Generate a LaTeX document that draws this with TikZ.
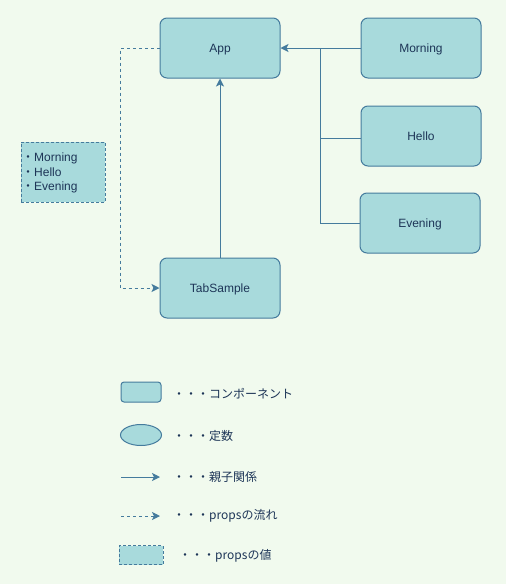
\documentclass[tikz,border=0pt]{standalone}
\usepackage{fontspec}
\setmainfont{Liberation Sans}
\newfontfamily\cjk{Noto Sans CJK JP}
\usetikzlibrary{arrows.meta,shapes.geometric}
\definecolor{bgc}{HTML}{F1FAEE}
\definecolor{fillc}{HTML}{A8DADC}
\definecolor{linec}{HTML}{457B9D}
\definecolor{textc}{HTML}{1D3557}
\begin{document}
\begin{tikzpicture}[x=1pt,y=-1pt,
  comp/.style={draw=linec,fill=fillc,line width=1pt,rounded corners=7pt,minimum width=120pt,minimum height=60pt,inner sep=0pt,text=textc,font=\fontsize{12}{14}\selectfont,text height=9pt,text depth=1pt},
  conn/.style={draw=linec,line width=1pt,-{Stealth[length=8pt,width=8pt,inset=2pt]}},
  line/.style={draw=linec,line width=1pt},
  dashconn/.style={draw=linec,line width=1pt,dash pattern=on 3pt off 3pt,-{Stealth[length=8pt,width=8pt,inset=2pt]}},
  lbl/.style={anchor=west,text=textc,font=\cjk\fontsize{12}{14}\selectfont,inner sep=0pt}]
\fill[bgc] (0,0) rectangle (506,584);
\useasboundingbox (0,0) rectangle (506,584);
\node[comp] (app) at (220,48) {App};
\node[comp] (morning) at (421,48) {Morning};
\node[comp] (hello) at (421,136) {Hello};
\node[comp] (evening) at (420,223) {Evening};
\node[comp] (tab) at (220,288) {TabSample};
\node[draw=linec,fill=fillc,line width=1pt,dash pattern=on 3pt off 2pt,minimum width=84pt,minimum height=60pt,inner sep=0pt] (props) at (63,172) {};
\node[anchor=west,align=left,text=textc,font=\fontsize{12}{14.5}\selectfont,inner sep=0pt] (plist) at (22,173) {{\cjk ・}Morning\\{\cjk ・}Hello\\{\cjk ・}Evening};
\coordinate (trunk) at (320,48);
\coordinate (th) at (320,138);
\coordinate (te) at (320,223);
\draw[conn] (morning.west) -- (app.east);
\draw[line] (hello.west |- th) -- (th) -- (trunk);
\draw[line] (evening.west) -- (te) -- (th);
\draw[conn] (tab.north) -- (app.south);
\coordinate (d1) at (120,48);
\coordinate (d2) at (120,288);
\draw[dashconn] (app.west) -- (d1) -- (d2) -- (tab.west);
% legend
\node[draw=linec,fill=fillc,line width=1pt,rounded corners=3pt,minimum width=40pt,minimum height=20pt,inner sep=0pt] (lg1) at (141,392) {};
\node[lbl] (lt1) at (173,394) {・・・コンポーネント};
\node[draw=linec,fill=fillc,line width=1pt,ellipse,minimum width=41pt,minimum height=21pt,inner sep=0pt] (lg2) at (141,435) {};
\node[lbl] (lt2) at (173,436) {・・・定数};
\coordinate (a1) at (121,477);
\coordinate (a2) at (160,477);
\draw[conn] (a1) -- (a2);
\node[lbl] (lt3) at (173,477) {・・・親子関係};
\coordinate (b1) at (121,516);
\coordinate (b2) at (160,516);
\draw[dashconn] (b1) -- (b2);
\node[lbl] (lt4) at (173,516) {・・・propsの流れ};
\node[draw=linec,fill=fillc,line width=1pt,dash pattern=on 3pt off 2pt,minimum width=44pt,minimum height=19pt,inner sep=0pt] (lg5) at (141,555) {};
\node[lbl] (lt5) at (179,556) {・・・propsの値};
\end{tikzpicture}
\end{document}
